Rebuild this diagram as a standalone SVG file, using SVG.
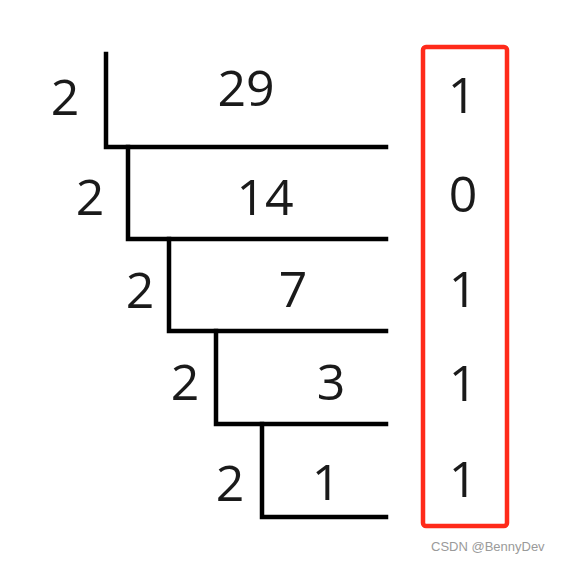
<svg xmlns="http://www.w3.org/2000/svg" width="562" height="562" viewBox="0 0 562 562">
<style>
.n{font-family:"Open Sans","Noto Sans",sans-serif;font-size:50px;fill:#1a1a1a;text-anchor:middle}
.l{fill:none;stroke:#000;stroke-width:4.5;stroke-linejoin:miter;stroke-linecap:square}
.w{font-family:"Liberation Sans",Arial,sans-serif;font-size:13px;fill:#9a9a9a}
</style>
<rect width="562" height="562" fill="#fff"/>
<g id="connectors">
<path class="l" d="M106,54 V147 H386"/>
<path class="l" d="M128,147 V239 H386"/>
<path class="l" d="M169,239 V331 H386"/>
<path class="l" d="M216,331 V424 H386"/>
<path class="l" d="M262,424 V517 H386"/>
</g>
<g id="step1"><text class="n" x="65" y="115">2</text><text class="n" x="246" y="106">29</text></g>
<g id="step2"><text class="n" x="90" y="215">2</text><text class="n" x="265" y="215">14</text></g>
<g id="step3"><text class="n" x="140" y="308">2</text><text class="n" x="293" y="307">7</text></g>
<g id="step4"><text class="n" x="185" y="400">2</text><text class="n" x="331" y="400">3</text></g>
<g id="step5"><text class="n" x="230" y="501">2</text><text class="n" x="326" y="500">1</text></g>
<g id="remainders">
<rect x="423" y="47" width="84" height="479" rx="3" fill="none" stroke="#ff2a1a" stroke-width="4.5"/>
<text class="n" x="462" y="113">1</text>
<text class="n" x="463" y="212">0</text>
<text class="n" x="463" y="307">1</text>
<text class="n" x="463" y="401">1</text>
<text class="n" x="463" y="497">1</text>
</g>
<text class="w" x="431" y="551">CSDN @BennyDev</text>
</svg>
